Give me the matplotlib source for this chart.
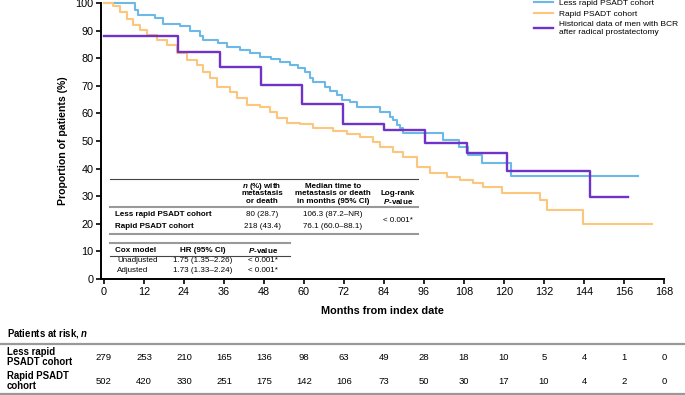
import matplotlib
matplotlib.use("Agg")
import matplotlib.pyplot as plt

plt.rcParams['font.family'] = ['Liberation Sans', 'DejaVu Sans']
plt.rcParams['mathtext.fontset'] = 'custom'
plt.rcParams['mathtext.rm'] = 'Liberation Sans'
plt.rcParams['mathtext.it'] = 'Liberation Sans:italic'
plt.rcParams['mathtext.bf'] = 'Liberation Sans:bold'
plt.rcParams['mathtext.bfit'] = 'Liberation Sans:italic:bold'

# Kaplan-Meier curves (months, % free of metastasis/death)
less_t = [0, 9.3, 10.3, 15.3, 17.7, 22.8, 25.8, 28.8, 29.7, 34.2, 36.9, 40.8, 43.8,
          46.8, 50.0, 52.8, 55.8, 58.2, 60.3, 61.8, 62.8, 66.3, 67.8, 69.9, 71.4, 73.8,
          75.8, 82.8, 85.8, 86.8, 87.8, 88.8, 89.8, 101.8, 106.5, 109.3, 113.3, 122.1, 160.3]
less_s = [100, 97.5, 95.6, 94.6, 92.4, 91.5, 89.9, 88.0, 86.6, 85.5, 84.2, 83.0, 81.8,
          80.5, 79.6, 78.7, 77.5, 76.3, 75.1, 72.7, 71.3, 69.5, 68.0, 66.5, 65.0, 64.3,
          62.4, 60.6, 58.8, 57.6, 55.8, 54.6, 52.8, 50.2, 47.9, 45.1, 42.1, 37.4, 37.4]

rapid_t = [0, 2.8, 4.8, 6.8, 8.8, 10.8, 12.8, 15.8, 18.8, 21.8, 24.8, 27.8, 29.8, 31.8,
           33.8, 37.8, 39.8, 42.8, 46.8, 49.8, 51.8, 54.8, 58.8, 62.8, 68.8, 72.8, 76.8,
           80.8, 82.8, 86.8, 89.8, 93.8, 97.8, 102.8, 106.8, 110.8, 113.8, 119.3, 130.8,
           132.8, 143.6, 164.3]
rapid_s = [100, 98.8, 96.6, 94.2, 92.2, 90.2, 88.4, 86.6, 84.8, 81.8, 79.3, 77.5, 75.1,
           72.7, 69.7, 67.9, 65.5, 63.0, 62.4, 60.6, 58.2, 56.6, 56.0, 54.8, 53.6, 52.6,
           51.5, 49.6, 47.9, 46.0, 44.3, 40.7, 38.3, 37.1, 35.9, 34.9, 33.2, 31.3, 28.6,
           25.0, 19.9, 19.9]

hist_t = [0, 22.3, 34.8, 47.2, 59.4, 71.6, 84.0, 96.4, 108.8, 120.8, 145.8, 157.2]
hist_s = [88.0, 82.4, 76.9, 70.3, 63.3, 56.3, 54.0, 49.2, 45.8, 39.2, 29.8, 29.8]

labels = ["Less rapid PSADT cohort", "Rapid PSADT cohort",
          "Historical data of men with BCR\nafter radical prostatectomy"]

# summary tables
cohorts = ["Less rapid PSADT cohort", "Rapid PSADT cohort"]
events = ["80 (28.7)", "218 (43.4)"]
medians = ["106.3 (87.2\u2013NR)", "76.1 (60.0\u201388.1)"]
logrank_p = "< 0.001*"
cox_models = ["Unadjusted", "Adjusted"]
cox_hr = ["1.75 (1.35\u20132.26)", "1.73 (1.33\u20132.24)"]
cox_p = ["< 0.001*", "< 0.001*"]

risk_times = list(range(0, 169, 12))
risk_labels = ["Less rapid\nPSADT cohort", "Rapid PSADT\ncohort"]
risk_less = [279, 253, 210, 165, 136, 98, 63, 49, 28, 18, 10, 5, 4, 1, 0]
risk_rapid = [502, 420, 330, 251, 175, 142, 106, 73, 50, 30, 17, 10, 4, 2, 0]

W, H = 685, 395
def fx(px):
    return px / W
def fy(py):
    return 1 - py / H

fig = plt.figure(figsize=(6.85, 3.95), dpi=100)
ax = fig.add_axes([fx(101), fy(279), fx(664) - fx(101), fy(3) - fy(279)])

ax.step(less_t, less_s, where='post', color='#6cb8e6', lw=1.5, clip_on=False, label=labels[0])
ax.step(rapid_t, rapid_s, where='post', color='#fcc77c', lw=1.5, clip_on=False, label=labels[1])
ax.step(hist_t, hist_s, where='post', color='#7033c9', lw=1.7, clip_on=False, label=labels[2])

ax.set_xlim(-0.9, 168)
ax.set_ylim(0, 100)
ax.set_xticks(risk_times)
ax.set_yticks(range(0, 101, 10))
ax.tick_params(labelsize=7.8, length=3.5, width=1.2, color='black', pad=2)
for side in ['top', 'right']:
    ax.spines[side].set_visible(False)
for side in ['left', 'bottom']:
    ax.spines[side].set_linewidth(1.4)
ax.set_xlabel("Months from index date", fontsize=7.8, fontweight='bold', labelpad=7)
ax.set_ylabel("Proportion of patients (%)", fontsize=7.6, fontweight='bold', labelpad=5)

ax.legend(loc='upper left', bbox_to_anchor=(fx(534), fy(-1)), bbox_transform=fig.transFigure,
          frameon=False, fontsize=6, handlelength=2.3, handletextpad=0.7,
          labelspacing=0.35, borderpad=0, borderaxespad=0)

# inner table
def hline(x0, x1, y, color, lw):
    fig.add_artist(plt.Line2D([fx(x0), fx(x1)], [fy(y), fy(y)], color=color, lw=lw))

def txt(x, y, s, ha='center', bold=False, size=5.8):
    fig.text(fx(x), fy(y), s, ha=ha, va='center', fontsize=size,
             fontweight='bold' if bold else 'normal')

hline(110, 418, 178.5, '#444444', 0.8)
for y, s in zip([186, 194, 201.7], [r"$\mathbfit{n}$ (%) with", "metastasis", "or death"]):
    txt(262, y, s, bold=True)
for y, s in zip([186, 194, 201.7], ["Median time to", "metastasis or death", "in months (95% CI)"]):
    txt(333, y, s, bold=True)
txt(398, 194, "Log-rank", bold=True)
txt(398, 201.7, r"$\mathbfit{P}$-value", bold=True)
hline(110, 418, 207, '#999999', 1.5)
for y, c, e, m in zip([215, 226], cohorts, events, medians):
    txt(115, y, c, ha='left', bold=True)
    txt(262, y, e)
    txt(333, y, m)
txt(398, 221, logrank_p)
hline(110, 418, 234, '#999999', 1.5)

hline(110, 290, 243.5, '#999999', 1.5)
txt(115, 250, "Cox model", ha='left', bold=True)
txt(203, 250, "HR (95% CI)", bold=True)
txt(263, 250, r"$\mathbfit{P}$-value", bold=True)
hline(110, 290, 255.7, '#444444', 0.8)
for y, m, hr, p in zip([261, 271], cox_models, cox_hr, cox_p):
    txt(117, y, m, ha='left')
    txt(203, y, hr)
    txt(263, y, p)

# patients at risk
fig.text(fx(7), fy(334), r"Patients at risk, $\mathbfit{n}$", ha='left', va='center',
         fontsize=6.9, fontweight='bold')
hline(0, W, 343.5, '#999999', 1.6)
for y, lab, vals in zip([357, 381], risk_labels, [risk_less, risk_rapid]):
    fig.text(fx(7), fy(y), lab, ha='left', va='center', fontsize=6.9,
             fontweight='bold', linespacing=1.1)
    for t, v in zip(risk_times, vals):
        xp = ax.transData.transform((t, 0))[0]
        fig.text(xp / fig.dpi / fig.get_figwidth(), fy(y), str(v), ha='center',
                 va='center', fontsize=6.8)
hline(0, W, 394, '#999999', 1.6)

fig.savefig("out.png", dpi=100)
